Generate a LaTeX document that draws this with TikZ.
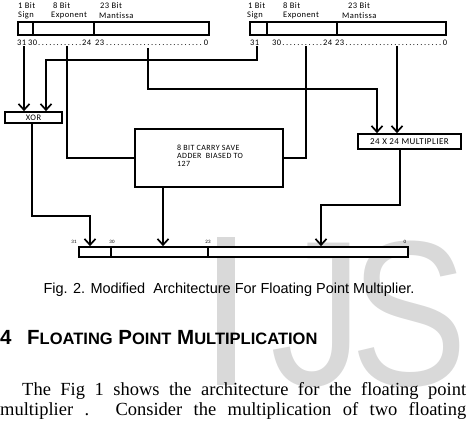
\documentclass[tikz,border=0pt]{standalone}
\usepackage{fontspec}
\setmainfont{Liberation Serif}
\setsansfont{Liberation Sans}
\newfontfamily\diagfont[LetterSpace=5,Ligatures=NoCommon]{Carlito}
\usetikzlibrary{arrows.meta}
\definecolor{wm}{HTML}{D9D9D9}
\tikzset{
  box/.style={draw, line width=1.7pt, inner sep=0pt, fill=white},
  wire/.style={line width=1.7pt},
  arr/.style={wire, -{Straight Barb[length=6pt,width=11pt,line width=1.7pt]}},
  lab/.style={inner sep=0pt, font=\diagfont\fontsize{8.5}{9}\selectfont},
  tinylab/.style={inner sep=0pt, font=\diagfont\fontsize{5}{5}\selectfont},
  boxtext/.style={inner sep=0pt, font=\diagfont\fontsize{8}{8}\selectfont, align=left},
  wmark/.style={inner sep=0pt, text=wm, font=\sffamily\fontsize{207}{207}\selectfont}
}
\begin{document}
\begin{tikzpicture}[x=1pt,y=-1pt]
\useasboundingbox (0,0) rectangle (474,421);
% watermark
\fill[wm] (217,237) rectangle (235,385);
\node[wmark, anchor=base west] (wj) at (270,385) {\scalebox{0.9}[1]{J}};
\node[wmark, anchor=base west] (ws) at (350,385) {\scalebox{0.85}[1]{S}};

% left register
\node[box, minimum width=191pt, minimum height=13pt] (lreg) at (113.5,28.5) {};
\draw[wire] (33,22) -- (33,35) (94,22) -- (94,35);
\node[lab, anchor=west] at (18,6) {1 Bit};
\node[lab, anchor=west] at (18,15.5) {Sign};
\node[lab, anchor=west] at (53,6) {8 Bit};
\node[lab, anchor=west] at (51,15.5) {Exponent};
\node[lab, anchor=west] at (100,6) {23 Bit};
\node[lab, anchor=west] at (99,15.5) {Mantissa};
\node[lab, anchor=west] at (17,43) {31};
\node[lab, anchor=west] at (28,43) {\makebox[63pt]{30\dotfill 24}};
\node[lab, anchor=west] at (95,43) {\makebox[113pt]{23\dotfill 0}};

% right register
\node[box, minimum width=196pt, minimum height=13pt] (rreg) at (348,28.5) {};
\draw[wire] (267,22) -- (267,35) (337,22) -- (337,35);
\node[lab, anchor=west] at (248,6) {1 Bit};
\node[lab, anchor=west] at (247,15.5) {Sign};
\node[lab, anchor=west] at (283,6) {8 Bit};
\node[lab, anchor=west] at (283,15.5) {Exponent};
\node[lab, anchor=west] at (348,6) {23 Bit};
\node[lab, anchor=west] at (342,15.5) {Mantissa};
\node[lab, anchor=west] at (250,43) {31};
\node[lab, anchor=west] at (272,43) {\makebox[60pt]{30\dotfill 24}};
\node[lab, anchor=west] at (335,43) {\makebox[112pt]{23\dotfill 0}};

% blocks
\node[box, minimum width=57pt, minimum height=11pt, lab] (xor) at (33.5,117.5) {XOR};
\node[box, minimum width=148pt, minimum height=58pt] (adder) at (209,158) {};
\node[boxtext, anchor=north west] (addtxt) at (177,144.5) {8 BIT CARRY SAVE\\ADDER\ \ BIASED TO\\127};
\node[box, minimum width=103pt, minimum height=15pt, lab, font=\diagfont\fontsize{9}{9}\selectfont] (mult) at (409.5,141.5) {24 X 24 MULTIPLIER};
\node[box, minimum width=329pt, minimum height=10pt] (res) at (243.5,252) {};
\draw[wire] (111,247) -- (111,257) (208,247) -- (208,257);
\node[tinylab] at (74,242) {31};
\node[tinylab] at (112,242) {30};
\node[tinylab] at (208,242) {23};
\node[tinylab] at (405,242) {0};

% tap points and bends
\coordinate (ls) at (24,46);
\coordinate (le) at (67,46);
\coordinate (lm) at (148,48);
\coordinate (rs) at (257,46);
\coordinate (re) at (306,46);
\coordinate (rm) at (397,46);
\coordinate (j1) at (46,60);
\coordinate (j2) at (377,89);
\coordinate (j3) at (90,216);
\coordinate (j4) at (163,0);
\coordinate (mo) at (400,0);
\coordinate (j6) at (321,205);

% connectors
\draw[arr] (ls) -- (ls |- xor.north);
\draw[arr] (rs) |- (j1) -- (j1 |- xor.north);
\draw[wire] (le) |- (adder.west);
\draw[arr] (lm) |- (j2) -- (j2 |- mult.north);
\draw[wire] (re) |- (adder.east);
\draw[arr] (rm) -- (rm |- mult.north);
\draw[arr] (xor.south -| 32,0) |- (j3) -- (j3 |- res.north);
\draw[arr] (adder.south -| j4) -- (res.north -| j4);
\draw[arr] (mult.south -| mo) |- (j6) -- (j6 |- res.north);

% caption and text
\node[inner sep=0pt, anchor=base, font=\sffamily\fontsize{14.5}{15}\selectfont] (cap) at (229,293) {Fig. 2. Modified\ \ Architecture For Floating Point Multiplier.};
\node[inner sep=0pt, anchor=base west, font=\sffamily\bfseries\fontsize{20.5}{22}\selectfont] (num) at (0,344) {4};
\node[inner sep=0pt, anchor=base west, font=\sffamily\bfseries\fontsize{20.5}{22}\selectfont] (head) at (27,344) {F{\fontsize{16.5}{18}\selectfont LOATING} P{\fontsize{16.5}{18}\selectfont OINT} M{\fontsize{16.5}{18}\selectfont ULTIPLICATION}};
\node[inner sep=0pt, anchor=base west, font=\fontsize{18.5}{20}\selectfont] (l1) at (22,395) {\makebox[444pt][s]{The Fig 1 shows the architecture for the floating point}};
\node[inner sep=0pt, anchor=base west, font=\fontsize{18.5}{20}\selectfont] (l2) at (0,415) {\makebox[466pt][s]{multiplier . Consider the multiplication of two floating}};
\end{tikzpicture}
\end{document}
